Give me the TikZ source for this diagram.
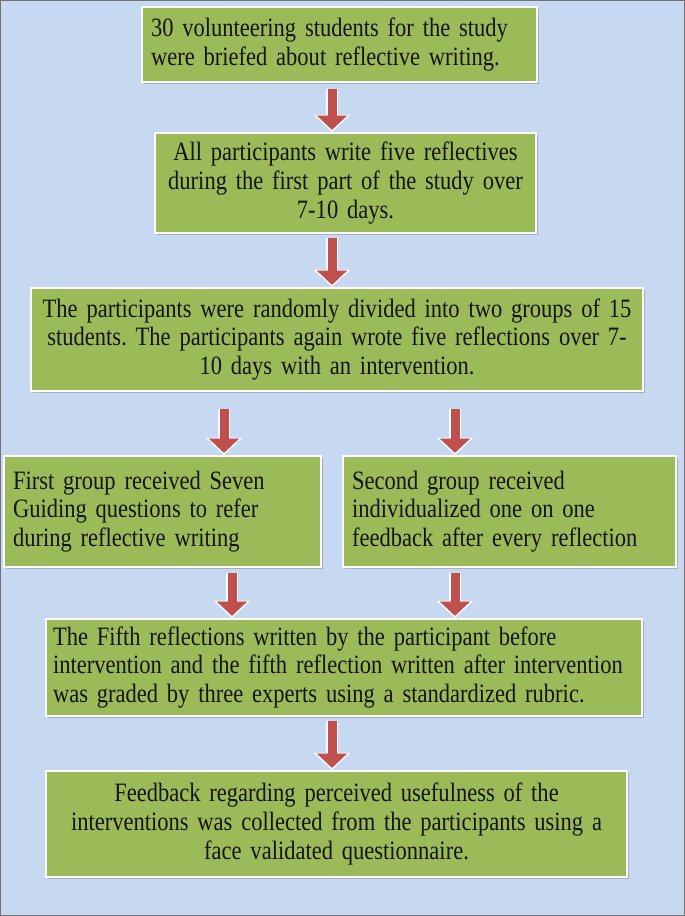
\documentclass[tikz,border=0pt]{standalone}
\usepackage{fontspec}
\setmainfont{Liberation Serif}[FakeStretch=0.85]
\usetikzlibrary{arrows.meta,shadows}
\definecolor{bgblue}{HTML}{C6D9F1}
\definecolor{boxgreen}{HTML}{9BBB59}
\definecolor{arrowred}{HTML}{C0504D}
\begin{document}
\frenchspacing
\hyphenpenalty=10000
\begin{tikzpicture}[x=1pt,y=-1pt,
  box/.style={draw=white, line width=2.2pt, fill=boxgreen, inner xsep=9pt, inner ysep=0pt,
    font=\fontsize{26.5}{28.6}\selectfont, text=black!92,
    drop shadow={shadow xshift=1.5pt, shadow yshift=-1.8pt, opacity=0.35, fill=black!60}},
  arrback/.style={draw=white, line width=12.5pt, -{Triangle[width=36pt,length=17pt,line width=0.1pt]}},
  arrfront/.style={draw=arrowred, line width=9pt, shorten >=2.2pt, -{Triangle[width=30pt,length=14pt,line width=0.1pt]}}]
\useasboundingbox (0,0) rectangle (685,916);
\fill[bgblue] (0,0) rectangle (685,916);
\draw[black!55, line width=1.2pt] (0.6,0.6) rectangle (684.4,915.4);

\node[box, align=left, text width=377pt, minimum width=395pt, minimum height=75pt] (b1) at (339.5,44.5)
  {30 volunteering students for the study\\were briefed about reflective writing.};
\node[box, align=center, text width=363pt, minimum width=381pt, minimum height=100pt] (b2) at (345.5,183)
  {All participants write five reflectives\\during the first part of the study over\\7-10 days.};
\node[box, align=center, text width=604pt, inner xsep=4pt, minimum width=612pt, minimum height=103pt] (b3) at (337,339.5)
  {The participants were randomly divided into two groups of 15\\students. The participants again wrote five reflections over 7-\\10 days with an intervention.};
\node[box, align=left, text width=299pt, minimum width=317pt, minimum height=111pt] (b4l) at (162.5,511.5)
  {First group received Seven\\Guiding questions to refer\\during reflective writing};
\node[box, align=left, text width=315pt, minimum width=333pt, minimum height=111pt] (b4r) at (509.5,511.5)
  {Second group received\\individualized one on one\\feedback after every reflection};
\node[box, align=left, text width=582pt, inner xsep=7pt, minimum width=596pt, minimum height=97pt] (b5) at (344,667.5)
  {The Fifth reflections written by the participant before\\intervention and the fifth reflection written after intervention\\was graded by three experts using a standardized rubric.};
\node[box, align=center, text width=567pt, inner xsep=7pt, minimum width=581pt, minimum height=106pt] (b6) at (336.5,824)
  {Feedback regarding perceived usefulness of the\\interventions was collected from the participants using a\\face validated questionnaire.};

\coordinate (s1) at (332,89);
\coordinate (s2) at (332,238);
\coordinate (s3l) at (224,409);
\coordinate (s3r) at (455,409);
\coordinate (s4l) at (232,573);
\coordinate (s4r) at (455,573);
\coordinate (s5) at (332,721);

\foreach \s/\t in {s1/b2, s2/b3, s3l/b4l, s3r/b4r, s4l/b5, s4r/b5, s5/b6}{
  \draw[arrback] (\s) -- (\s |- \t.north);
  \draw[arrfront] (\s) -- (\s |- \t.north);
}
\end{tikzpicture}
\end{document}
